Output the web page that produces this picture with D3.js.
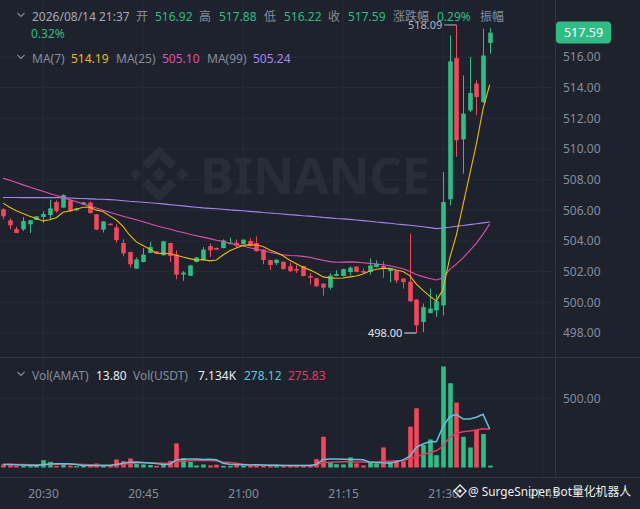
<!DOCTYPE html>
<html><head><meta charset="utf-8">
<script src="https://cdn.jsdelivr.net/npm/d3@7"></script>
<style>
html,body{margin:0;padding:0;background:#1e222d;}
svg{display:block;font-family:"Noto Sans","Noto Sans CJK SC",sans-serif;}
</style></head><body>
<svg id="c" width="640" height="509"></svg>
<script>
// ---------- data ----------
const startTime = "2026-08-14T20:24:00";
const opens = [506.07,505.35,504.78,504.76,505.09,505.37,505.56,505.69,506.54,506.18,506.65,506.00,506.39,506.50,505.74,504.74,505.13,504.89,503.87,503.28,502.20,502.63,503.22,503.33,503.07,503.87,503.11,501.81,501.73,502.63,502.74,503.67,503.55,503.54,503.80,503.89,503.80,504.00,503.87,503.44,502.76,502.56,502.65,502.35,502.17,502.37,501.72,501.57,501.22,500.96,501.72,501.72,501.98,502.33,502.04,501.98,502.30,502.37,502.04,502.09,501.55,501.34,500.18,498.72,499.30,499.48,499.80,506.72,515.93,510.63,512.52,514.26,513.06,516.92];
const highs = [506.13,505.48,504.94,505.56,505.36,505.63,505.94,506.70,506.65,507.04,506.70,506.16,506.55,506.59,505.76,505.30,505.15,505.09,504.11,503.30,502.93,503.54,503.93,503.35,504.00,503.89,503.39,502.04,502.43,502.95,503.61,503.83,503.57,504.11,504.22,504.11,504.11,504.17,504.30,503.46,502.78,502.80,502.67,502.59,502.46,502.39,501.91,501.59,501.24,501.91,502.09,502.19,502.35,502.35,502.20,502.87,502.74,502.67,502.24,502.11,501.57,504.48,500.20,499.92,500.89,500.52,508.50,517.41,518.09,514.80,516.00,514.48,517.85,517.88];
const lows = [505.41,504.76,504.52,504.65,504.52,505.35,505.17,505.39,505.85,506.18,505.89,505.98,506.37,505.80,504.72,504.55,505.02,503.89,503.00,502.26,502.18,502.61,503.20,503.16,503.05,502.63,501.50,501.40,501.71,502.61,502.72,502.95,503.42,503.52,503.78,503.57,503.78,503.65,503.31,502.48,502.11,502.43,502.15,501.96,501.91,501.70,501.17,501.02,500.44,500.83,501.70,501.70,501.76,501.96,501.92,501.81,502.28,501.60,501.32,501.26,500.89,500.05,498.00,498.06,499.28,499.04,499.15,506.33,509.48,508.39,512.41,512.20,513.00,516.22];
const closes = [505.61,505.02,504.52,505.30,505.35,505.61,505.76,506.13,505.94,507.00,505.94,506.13,506.52,505.82,504.74,505.28,505.04,504.06,503.20,502.48,502.80,503.11,503.61,503.18,503.98,503.03,501.81,501.94,502.41,502.93,503.44,503.39,503.44,504.04,503.89,503.70,504.09,503.67,503.33,502.76,502.43,502.78,502.17,502.04,502.07,501.72,501.61,501.04,500.96,501.74,501.85,502.17,502.26,501.98,501.94,502.41,502.52,502.22,502.22,501.43,501.32,500.07,498.50,499.69,499.59,500.08,506.54,515.72,510.57,512.31,513.65,513.39,516.10,517.59];
const volumes = [22,15,12,14,10,12,53,41,12,18,14,10,12,16,29,12,10,58,46,65,25,22,18,12,30,48,174,68,40,15,22,15,20,12,12,25,14,12,24,15,18,12,15,12,14,16,14,60,222,40,24,22,73,30,15,38,30,145,41,50,45,295,428,162,203,89,730,609,469,222,145,271,242,13.80];
// moving-average values before a full window exists
const ma7Lead = [506.47,506.20,505.98,505.80,505.62,505.47];
const ma25Lead = [508.10,507.96,507.81,507.66,507.52,507.38,507.24,507.10,506.97,506.83,506.70,506.56,506.42,506.28,506.15,506.01,505.87,505.74,505.62,505.50,505.38,505.25,505.12,505.00];
const ma99 = [506.84,506.84,506.84,506.83,506.83,506.83,506.83,506.83,506.83,506.82,506.80,506.78,506.77,506.75,506.73,506.72,506.70,506.67,506.63,506.59,506.56,506.53,506.49,506.46,506.42,506.37,506.33,506.29,506.24,506.20,506.16,506.13,506.10,506.07,506.03,506.00,505.97,505.93,505.90,505.86,505.83,505.79,505.76,505.72,505.69,505.65,505.62,505.58,505.54,505.51,505.47,505.44,505.41,505.37,505.33,505.29,505.24,505.20,505.16,505.11,505.07,505.03,504.98,504.93,504.87,504.81,504.85,504.90,504.96,505.01,505.07,505.12,505.18,505.24];
const volMaA = [22,22,20,18,16,15,20,26,28,28,27,22,14,14,15,15,14,22,30,38,40,36,32,28,22,24,55,60,62,62,58,60,56,30,24,22,20,18,20,18,17,16,15,14,14,15,14,22,58,62,62,60,58,58,56,40,36,35,30,42,55,80,145,170,186,186,295,367,384,350,350,363,384,278.12];
const volMaB = [24,23,22,21,20,19,20,22,23,24,24,23,22,20,19,17,16,20,24,28,32,34,34,32,30,30,42,45,48,50,52,50,48,40,36,30,24,20,18,17,16,16,15,15,15,15,15,18,36,38,40,42,42,40,40,38,40,45,45,48,50,63,77,94,106,121,155,218,247,259,263,271,280,275.83];
const priceTicks = [498,500,502,504,506,508,510,512,514,516];
const volTicks = [500];
const timeTicks = ["20:30","20:45","21:00","21:15","21:30","21:45"];
const lastInfo = {time:"2026/08/14 21:37", open:"516.92", high:"517.88", low:"516.22", close:"517.59", chg:"0.29%", amp:"0.32%"};
const maLegend = [["MA(7)","514.19"],["MA(25)","505.10"],["MA(99)","505.24"]];
const volLegend = {amat:"13.80", usdt:"7.134K", a:"278.12", b:"275.83"};

// ---------- colours ----------
const UP="#2ebd85", DOWN="#f6465d", GRID="#272b36", SEP="#303542", TXT="#848e9c";
const C7="#f0b90b", C25="#e34fae", C99="#a884f3", CVA="#5bc6dc", CVB="#e8395f";

const svg = d3.select("#c");
const t0 = new Date(startTime);
const times = opens.map((_,i)=>d3.timeMinute.offset(t0,i));
const data = opens.map((o,i)=>({t:times[i],o,h:highs[i],l:lows[i],c:closes[i],v:volumes[i]}));

const PR = 555; // plot right edge
const x = d3.scaleTime().domain([times[0], times[times.length-1]]).range([3, 489.7]);
const y = d3.scaleLinear().domain([498,516]).range([333,57]);
const vy = d3.scaleLinear().domain([0,500]).range([467.5,398.3]);
const parseHM = s=>{const [h,m]=s.split(":").map(Number); const d=new Date(t0); d.setHours(h,m,0,0); return d;};
const tickTimes = timeTicks.map(parseHM);

// grid
const g = svg.append("g");
g.selectAll(".hg").data(priceTicks).join("line")
  .attr("x1",0).attr("x2",PR).attr("y1",d=>y(d)).attr("y2",d=>y(d)).attr("stroke",GRID);
g.selectAll(".vgh").data(volTicks).join("line")
  .attr("x1",0).attr("x2",PR).attr("y1",d=>vy(d)).attr("y2",d=>vy(d)).attr("stroke",GRID);
g.selectAll(".vg").data(tickTimes).join("line")
  .attr("x1",d=>x(d)).attr("x2",d=>x(d)).attr("y1",0).attr("y2",477).attr("stroke",GRID);
// separators
svg.append("line").attr("x1",0).attr("x2",640).attr("y1",357.5).attr("y2",357.5).attr("stroke",SEP);
svg.append("line").attr("x1",0).attr("x2",640).attr("y1",477.5).attr("y2",477.5).attr("stroke",SEP);
svg.append("line").attr("x1",PR+0.5).attr("x2",PR+0.5).attr("y1",0).attr("y2",477).attr("stroke",SEP);

// watermark logo
const wm = svg.append("g").attr("fill","#282d39");
const lx=159, ly=174;
const dia=(cx,cy,r)=>`M${cx},${cy-r}L${cx+r},${cy}L${cx},${cy+r}L${cx-r},${cy}Z`;
wm.append("path").attr("d",dia(lx,ly,7)+dia(lx-23,ly,6)+dia(lx+23,ly,6)
  +`M${lx},${ly-28}L${lx+17},${ly-11}L${lx+11},${ly-5}L${lx},${ly-16}L${lx-11},${ly-5}L${lx-17},${ly-11}Z`
  +`M${lx},${ly+28}L${lx+17},${ly+11}L${lx+11},${ly+5}L${lx},${ly+16}L${lx-11},${ly+5}L${lx-17},${ly+11}Z`);
wm.append("text").attr("x",200).attr("y",194).attr("font-size",51).attr("font-weight",700)
  .attr("textLength",230).attr("lengthAdjust","spacing").text("BINANCE");

// candles
const bw = 4.6;
const cg = svg.append("g");
cg.selectAll("line.w").data(data).join("line")
  .attr("x1",d=>Math.round(x(d.t))+0.5).attr("x2",d=>Math.round(x(d.t))+0.5)
  .attr("y1",d=>y(d.h)).attr("y2",d=>y(d.l))
  .attr("stroke",d=>d.c>=d.o?UP:DOWN).attr("stroke-width",1);
cg.selectAll("rect.b").data(data).join("rect")
  .attr("x",d=>Math.round(x(d.t))+0.5-bw/2).attr("width",bw)
  .attr("y",d=>y(Math.max(d.o,d.c)))
  .attr("height",d=>Math.max(1.2,Math.abs(y(d.o)-y(d.c))))
  .attr("fill",d=>d.c>=d.o?UP:DOWN);

// moving averages
const ma7 = closes.map((c,i)=> i<6 ? ma7Lead[i] : d3.mean(closes.slice(i-6,i+1)));
const ma25 = closes.map((c,i)=> i<24 ? ma25Lead[i] : d3.mean(closes.slice(i-24,i+1)));
const line = d3.line().x((d,i)=>x(times[i])).y(d=>y(d));
[[ma99,C99],[ma25,C25],[ma7,C7]].forEach(([arr,col])=>{
  svg.append("path").attr("d",line(arr)).attr("fill","none").attr("stroke",col).attr("stroke-width",1.1);
});

// volume
svg.append("g").selectAll("rect").data(data).join("rect")
  .attr("x",d=>Math.round(x(d.t))+0.5-bw/2).attr("width",bw)
  .attr("y",d=>vy(d.v)).attr("height",d=>Math.max(1,vy(0)-vy(d.v)))
  .attr("fill",d=>d.c>=d.o?UP:DOWN);
const vline = d3.line().x((d,i)=>x(times[i])).y(d=>vy(d));
svg.append("path").attr("d",vline(volMaB)).attr("fill","none").attr("stroke",CVB).attr("stroke-width",1.5);
svg.append("path").attr("d",vline(volMaA)).attr("fill","none").attr("stroke",CVA).attr("stroke-width",1.5);

// axes
const ay = svg.append("g").attr("transform",`translate(${PR},0)`)
  .call(d3.axisRight(y).tickValues(priceTicks).tickFormat(d3.format(".2f")).tickSize(0).tickPadding(8));
const avy = svg.append("g").attr("transform",`translate(${PR},0)`)
  .call(d3.axisRight(vy).tickValues(volTicks).tickFormat(d3.format(".2f")).tickSize(0).tickPadding(8));
const ax = svg.append("g").attr("transform",`translate(0,477)`)
  .call(d3.axisBottom(x).tickValues(tickTimes).tickFormat(d3.timeFormat("%H:%M")).tickSize(0).tickPadding(12));
[ay,avy,ax].forEach(a=>{a.select(".domain").remove();
  a.selectAll("text").attr("fill",TXT).attr("font-size",12).attr("font-family","Noto Sans, sans-serif");});

// high / low markers
const hiI = d3.maxIndex(highs), loI = d3.minIndex(lows);
const mk = svg.append("g").attr("fill","#b0b6bf").attr("font-size",11);
mk.append("line").attr("x1",x(times[hiI])-12).attr("x2",x(times[hiI])).attr("y1",y(highs[hiI])).attr("y2",y(highs[hiI])).attr("stroke","#b0b6bf");
mk.append("text").attr("x",x(times[hiI])-14).attr("y",y(highs[hiI])+4).attr("text-anchor","end").text(d3.format(".2f")(highs[hiI]));
mk.append("line").attr("x1",x(times[loI])-12).attr("x2",x(times[loI])).attr("y1",y(lows[loI])).attr("y2",y(lows[loI])).attr("stroke","#e0e3e8");
mk.append("text").attr("x",x(times[loI])-14).attr("y",y(lows[loI])+4).attr("text-anchor","end").attr("fill","#e0e3e8").text(d3.format(".2f")(lows[loI]));

// current price tag
const cp = closes[closes.length-1];
svg.append("rect").attr("x",556).attr("y",y(cp)-11).attr("width",55).attr("height",22).attr("rx",4).attr("fill",UP);
svg.append("text").attr("x",583.5).attr("y",y(cp)+4.5).attr("text-anchor","middle").attr("fill","#ffffff")
  .attr("font-size",12.5).text(d3.format(".2f")(cp));

// header legends (placed item by item)
function chevron(cx,cy){svg.append("path").attr("d",`M${cx-3.5},${cy-2}L${cx},${cy+1.5}L${cx+3.5},${cy-2}`)
  .attr("fill","none").attr("stroke",TXT).attr("stroke-width",1.1);}
function put(yb, items){
  items.forEach(([s,col,xx])=>svg.append("text").attr("x",xx).attr("y",yb).attr("font-size",12)
    .attr("fill",col).text(s));
}
chevron(21,15);
put(20.5,[[lastInfo.time,"#a3a9b3",32],["开",TXT,136],[lastInfo.open,UP,155],["高",TXT,199],[lastInfo.high,UP,219],
  ["低",TXT,264],[lastInfo.low,UP,284],["收",TXT,328],[lastInfo.close,UP,348],["涨跌幅",TXT,393],[lastInfo.chg,UP,437],["振幅",TXT,480]]);
put(37.5,[[lastInfo.amp,UP,31]]);
chevron(21,57);
put(62.5,[[maLegend[0][0],TXT,32],[maLegend[0][1],C7,71],[maLegend[1][0],TXT,116],[maLegend[1][1],C25,162],[maLegend[2][0],TXT,207],[maLegend[2][1],C99,253]]);
chevron(21,374);
put(379.5,[["Vol(AMAT)",TXT,32],[volLegend.amat,"#eaecef",96],["Vol(USDT)",TXT,133],[volLegend.usdt,"#eaecef",198],[volLegend.a,CVA,244],[volLegend.b,CVB,288]]);

// footer watermark
const fw = svg.append("g");
fw.append("path").attr("d",dia(460,491,6)).attr("fill","none").attr("stroke","#e6e8ea").attr("stroke-width",1.4);
fw.append("path").attr("d",dia(460,491,2)).attr("fill","#e6e8ea");
fw.append("text").attr("x",468).attr("y",496).attr("fill","#eceef0").attr("font-size",12.5)
  .attr("textLength",163).attr("lengthAdjust","spacingAndGlyphs")
  .attr("font-family","Noto Sans, Noto Sans CJK SC, sans-serif").text("@ SurgeSniper Bot量化机器人");
</script>
</body></html>
